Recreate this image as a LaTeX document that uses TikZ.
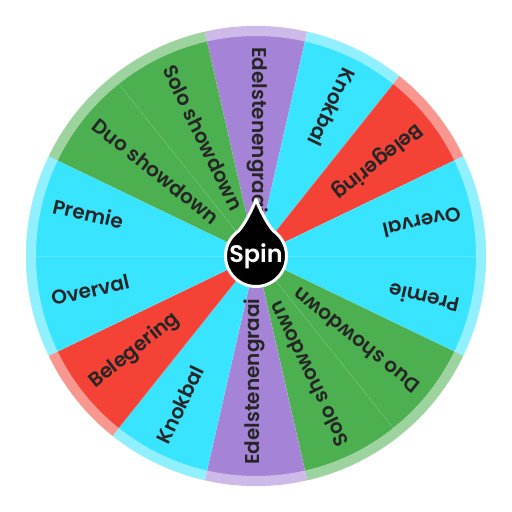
\documentclass[tikz,border=0pt]{standalone}
\usepackage{fontspec}
\setmainfont{Poppins}
\newfontfamily\wfont{Poppins SemiBold}
\definecolor{wpurple}{HTML}{A583D6}
\definecolor{wcyan}{HTML}{38E4FF}
\definecolor{wred}{HTML}{F44336}
\definecolor{wgreen}{HTML}{4CAF50}
\definecolor{wtext}{HTML}{262626}
\tikzset{
  seglabel/.style={anchor=west, inner sep=0pt, text=wtext, font=\wfont\fontsize{20}{20}\selectfont, text height=0.72em, text depth=0pt},
  spinbtn/.style={fill=black, draw=white, line width=3pt, line join=round},
}
\begin{document}
\begin{tikzpicture}[x=1pt,y=1pt]
\useasboundingbox (-256,-256) rectangle (256,256);
\fill[white] (-256,-256) rectangle (256,256);
\foreach \i/\col/\lab in {0/wpurple/Edelstenengraai, 1/wcyan/Knokbal, 2/wred/Belegering, 3/wcyan/Overval, 4/wcyan/Premie, 5/wgreen/Duo showdown, 6/wgreen/Solo showdown, 7/wpurple/Edelstenengraai, 8/wcyan/Knokbal, 9/wred/Belegering, 10/wcyan/Overval, 11/wcyan/Premie, 12/wgreen/Duo showdown, 13/wgreen/Solo showdown}{
  \pgfmathsetmacro\a{90-\i*360/14}
  \pgfmathsetmacro\sa{\a+180/14}
  \pgfmathsetmacro\ea{\a-180/14}
  \fill[\col] (0,0) -- (\sa:230) arc[start angle=\sa, end angle=\ea, radius=230] -- cycle;
}
\foreach \i in {0,...,13}{
  \pgfmathsetmacro\b{90-\i*360/14+180/14}
  \draw[white, opacity=0.15, line width=0.5pt] (0,0) -- (\b:220);
}
\fill[white, fill opacity=0.45, even odd rule] (0,0) circle (230) (0,0) circle (220);
\foreach \i/\lab in {0/Edelstenengraai, 1/Knokbal, 2/Belegering, 3/Overval, 4/Premie, 5/Duo showdown, 6/Solo showdown, 7/Edelstenengraai, 8/Knokbal, 9/Belegering, 10/Overval, 11/Premie, 12/Duo showdown, 13/Solo showdown}{
  \pgfmathsetmacro\a{90-\i*360/14}
  \pgfmathsetmacro\r{\a+180}
  \node[seglabel, rotate=\r] (t\i) at (\a:209) {\lab};
}
\path[spinbtn] (0,57) .. controls (2,50) and (11.2,31.6) .. (55:30.5)
  arc[start angle=55, end angle=-235, radius=30.5]
  .. controls (-11.2,31.6) and (-2,50) .. cycle;
\node[text=white, font=\wfont\fontsize{24}{24}\selectfont, inner sep=0pt] (spin) at (0,0) {Spin};
\end{tikzpicture}
\end{document}
